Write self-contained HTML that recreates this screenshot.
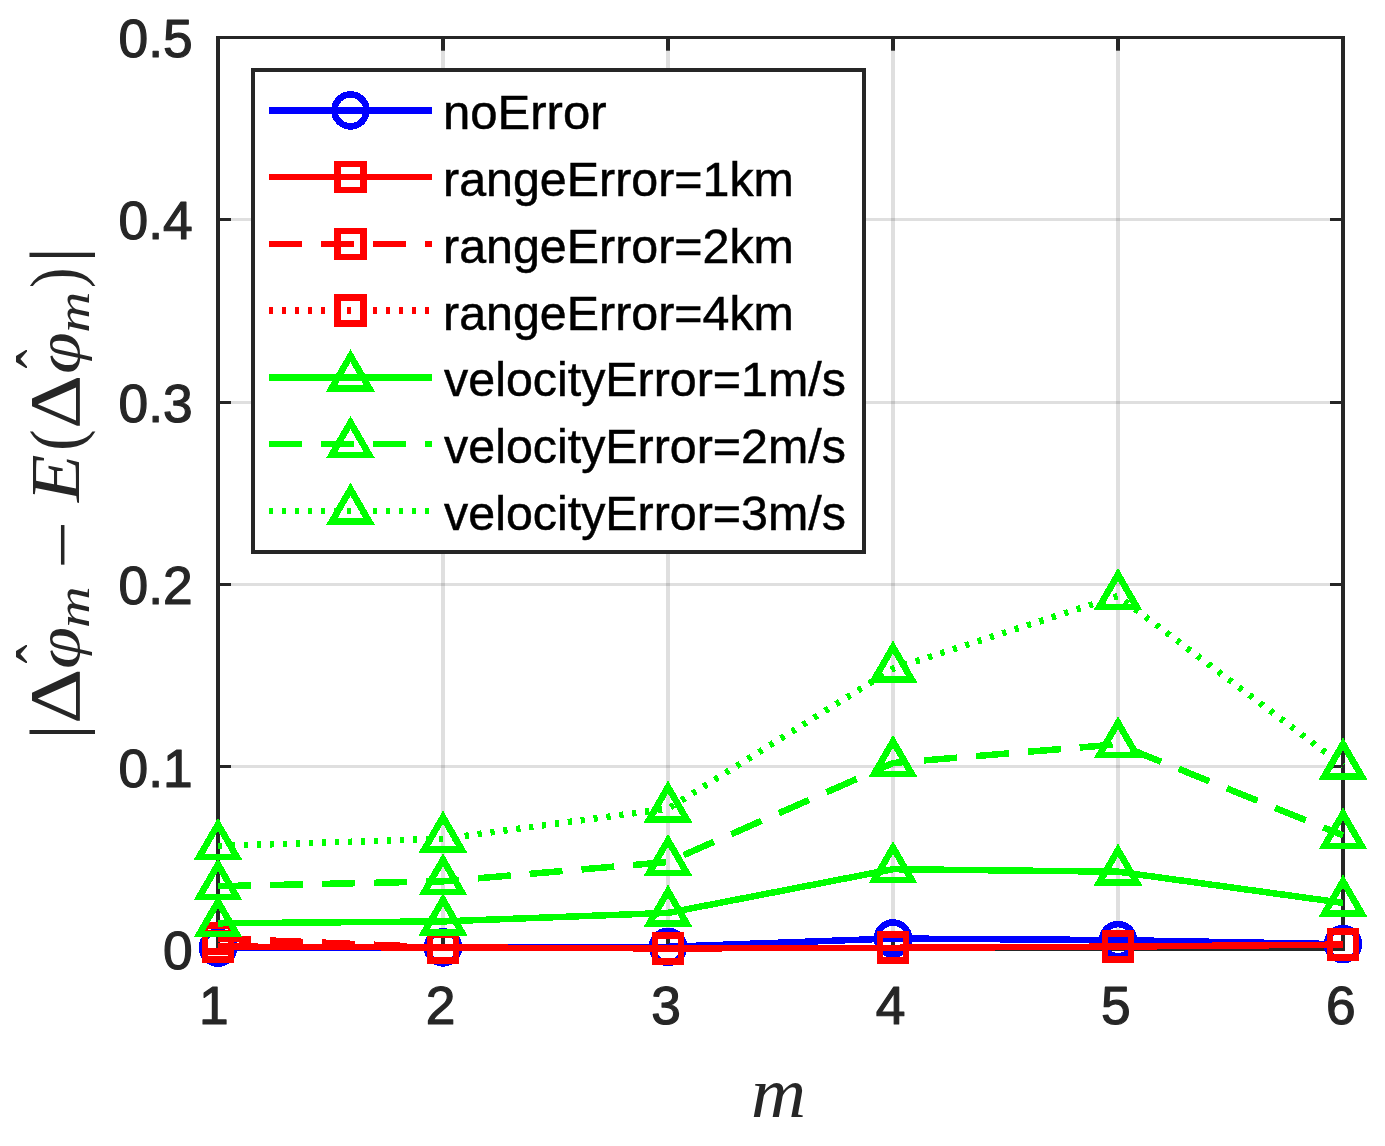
<!DOCTYPE html>
<html><head><meta charset="utf-8"><title>plot</title>
<style>html,body{margin:0;padding:0;background:#fff;width:1385px;height:1146px;overflow:hidden}text{font-kerning:none}</style>
</head><body>
<svg width="1385" height="1146" viewBox="0 0 1385 1146" style="display:block">
<rect x="0" y="0" width="1385" height="1146" fill="#fff"/>
<g fill="#262626" fill-opacity="0.15"><rect x="441" y="37.4" width="4" height="911.8"/><rect x="666" y="37.4" width="4" height="911.8"/><rect x="891" y="37.4" width="4" height="911.8"/><rect x="1116" y="37.4" width="4" height="911.8"/><rect x="218" y="765" width="1125" height="3"/><rect x="218" y="583" width="1125" height="3"/><rect x="218" y="401" width="1125" height="3"/><rect x="218" y="218" width="1125" height="3"/></g>
<g fill="#262626"><rect x="216" y="36" width="4" height="914.8"/><rect x="1341" y="36" width="4" height="914.8"/><rect x="216" y="36" width="1129" height="3"/><rect x="216" y="948" width="1129" height="3"/><rect x="441" y="38" width="4" height="12.7"/><rect x="441" y="935.5" width="4" height="12.5"/><rect x="666" y="38" width="4" height="12.7"/><rect x="666" y="935.5" width="4" height="12.5"/><rect x="891" y="38" width="4" height="12.7"/><rect x="891" y="935.5" width="4" height="12.5"/><rect x="1116" y="38" width="4" height="12.7"/><rect x="1116" y="935.5" width="4" height="12.5"/><rect x="220" y="765" width="11" height="3"/><rect x="1330" y="765" width="11" height="3"/><rect x="220" y="583" width="11" height="3"/><rect x="1330" y="583" width="11" height="3"/><rect x="220" y="401" width="11" height="3"/><rect x="1330" y="401" width="11" height="3"/><rect x="220" y="218" width="11" height="3"/><rect x="1330" y="218" width="11" height="3"/></g>
<g shape-rendering="crispEdges"><polyline points="218,947.6 443,947.35 668,946.8 893,938.5 1118,940.1 1343,944.2" fill="none" stroke="#0000ff" stroke-width="6.5"  stroke-linejoin="round"/><circle cx="218.00" cy="947.60" r="16" fill="none" stroke="#0000ff" stroke-width="6.6"/><circle cx="443.00" cy="947.35" r="16" fill="none" stroke="#0000ff" stroke-width="6.6"/><circle cx="668.00" cy="946.80" r="16" fill="none" stroke="#0000ff" stroke-width="6.6"/><circle cx="893.00" cy="938.50" r="16" fill="none" stroke="#0000ff" stroke-width="6.6"/><circle cx="1118.00" cy="940.10" r="16" fill="none" stroke="#0000ff" stroke-width="6.6"/><circle cx="1343.00" cy="944.20" r="16" fill="none" stroke="#0000ff" stroke-width="6.6"/><polyline points="218,946.6 443,947.5 668,948.4 893,947.8 1118,946.6 1343,944.6" fill="none" stroke="#ff0000" stroke-width="6.5"  stroke-linejoin="round"/><rect x="205.00" y="933.60" width="26" height="26" fill="none" stroke="#ff0000" stroke-width="6.6"/><rect x="430.00" y="934.50" width="26" height="26" fill="none" stroke="#ff0000" stroke-width="6.6"/><rect x="655.00" y="935.40" width="26" height="26" fill="none" stroke="#ff0000" stroke-width="6.6"/><rect x="880.00" y="934.80" width="26" height="26" fill="none" stroke="#ff0000" stroke-width="6.6"/><rect x="1105.00" y="933.60" width="26" height="26" fill="none" stroke="#ff0000" stroke-width="6.6"/><rect x="1330.00" y="931.60" width="26" height="26" fill="none" stroke="#ff0000" stroke-width="6.6"/><polyline points="218,938.4 443,947.5 668,948.4 893,947.8 1118,946.6 1343,944.6" fill="none" stroke="#ff0000" stroke-width="6.5" stroke-dasharray="33 19" stroke-linejoin="round"/><rect x="205.00" y="925.40" width="26" height="26" fill="none" stroke="#ff0000" stroke-width="6.6"/><rect x="430.00" y="934.50" width="26" height="26" fill="none" stroke="#ff0000" stroke-width="6.6"/><rect x="655.00" y="935.40" width="26" height="26" fill="none" stroke="#ff0000" stroke-width="6.6"/><rect x="880.00" y="934.80" width="26" height="26" fill="none" stroke="#ff0000" stroke-width="6.6"/><rect x="1105.00" y="933.60" width="26" height="26" fill="none" stroke="#ff0000" stroke-width="6.6"/><rect x="1330.00" y="931.60" width="26" height="26" fill="none" stroke="#ff0000" stroke-width="6.6"/><polyline points="218,946.6 443,947.5 668,948.4 893,947.8 1118,946.6 1343,944.6" fill="none" stroke="#ff0000" stroke-width="6.5" stroke-dasharray="4.2 8.8" stroke-linejoin="round"/><rect x="205.00" y="933.60" width="26" height="26" fill="none" stroke="#ff0000" stroke-width="6.6"/><rect x="430.00" y="934.50" width="26" height="26" fill="none" stroke="#ff0000" stroke-width="6.6"/><rect x="655.00" y="935.40" width="26" height="26" fill="none" stroke="#ff0000" stroke-width="6.6"/><rect x="880.00" y="934.80" width="26" height="26" fill="none" stroke="#ff0000" stroke-width="6.6"/><rect x="1105.00" y="933.60" width="26" height="26" fill="none" stroke="#ff0000" stroke-width="6.6"/><rect x="1330.00" y="931.60" width="26" height="26" fill="none" stroke="#ff0000" stroke-width="6.6"/><polyline points="218,923.3 443,921.4 668,912.9 893,869.2 1118,871.7 1343,902.9" fill="none" stroke="#00ff00" stroke-width="6.5"  stroke-linejoin="round"/><polygon points="218.00,901.63 199.24,934.13 236.76,934.13" fill="none" stroke="#00ff00" stroke-width="6.6" stroke-linejoin="miter" stroke-miterlimit="10"/><polygon points="443.00,899.73 424.24,932.23 461.76,932.23" fill="none" stroke="#00ff00" stroke-width="6.6" stroke-linejoin="miter" stroke-miterlimit="10"/><polygon points="668.00,891.23 649.24,923.73 686.76,923.73" fill="none" stroke="#00ff00" stroke-width="6.6" stroke-linejoin="miter" stroke-miterlimit="10"/><polygon points="893.00,847.53 874.24,880.03 911.76,880.03" fill="none" stroke="#00ff00" stroke-width="6.6" stroke-linejoin="miter" stroke-miterlimit="10"/><polygon points="1118.00,850.03 1099.24,882.53 1136.76,882.53" fill="none" stroke="#00ff00" stroke-width="6.6" stroke-linejoin="miter" stroke-miterlimit="10"/><polygon points="1343.00,881.23 1324.24,913.73 1361.76,913.73" fill="none" stroke="#00ff00" stroke-width="6.6" stroke-linejoin="miter" stroke-miterlimit="10"/><polyline points="218,886.2 443,881.3 668,862 893,763 1118,744.3 1343,835.3" fill="none" stroke="#00ff00" stroke-width="6.5" stroke-dasharray="33 19" stroke-linejoin="round"/><polygon points="218.00,864.53 199.24,897.03 236.76,897.03" fill="none" stroke="#00ff00" stroke-width="6.6" stroke-linejoin="miter" stroke-miterlimit="10"/><polygon points="443.00,859.63 424.24,892.13 461.76,892.13" fill="none" stroke="#00ff00" stroke-width="6.6" stroke-linejoin="miter" stroke-miterlimit="10"/><polygon points="668.00,840.33 649.24,872.83 686.76,872.83" fill="none" stroke="#00ff00" stroke-width="6.6" stroke-linejoin="miter" stroke-miterlimit="10"/><polygon points="893.00,741.33 874.24,773.83 911.76,773.83" fill="none" stroke="#00ff00" stroke-width="6.6" stroke-linejoin="miter" stroke-miterlimit="10"/><polygon points="1118.00,722.63 1099.24,755.13 1136.76,755.13" fill="none" stroke="#00ff00" stroke-width="6.6" stroke-linejoin="miter" stroke-miterlimit="10"/><polygon points="1343.00,813.63 1324.24,846.13 1361.76,846.13" fill="none" stroke="#00ff00" stroke-width="6.6" stroke-linejoin="miter" stroke-miterlimit="10"/><polyline points="218,846 443,838.8 668,808.7 893,668.7 1118,596.1 1343,765.6" fill="none" stroke="#00ff00" stroke-width="6.5" stroke-dasharray="4.2 8.8" stroke-linejoin="round"/><polygon points="218.00,824.33 199.24,856.83 236.76,856.83" fill="none" stroke="#00ff00" stroke-width="6.6" stroke-linejoin="miter" stroke-miterlimit="10"/><polygon points="443.00,817.13 424.24,849.63 461.76,849.63" fill="none" stroke="#00ff00" stroke-width="6.6" stroke-linejoin="miter" stroke-miterlimit="10"/><polygon points="668.00,787.03 649.24,819.53 686.76,819.53" fill="none" stroke="#00ff00" stroke-width="6.6" stroke-linejoin="miter" stroke-miterlimit="10"/><polygon points="893.00,647.03 874.24,679.53 911.76,679.53" fill="none" stroke="#00ff00" stroke-width="6.6" stroke-linejoin="miter" stroke-miterlimit="10"/><polygon points="1118.00,574.43 1099.24,606.93 1136.76,606.93" fill="none" stroke="#00ff00" stroke-width="6.6" stroke-linejoin="miter" stroke-miterlimit="10"/><polygon points="1343.00,743.93 1324.24,776.43 1361.76,776.43" fill="none" stroke="#00ff00" stroke-width="6.6" stroke-linejoin="miter" stroke-miterlimit="10"/></g>
<g><text x="163.07" y="968.90" font-family="Liberation Sans, Arial, Helvetica, sans-serif" font-size="53.3" fill="#262626" stroke="#262626" stroke-width="1.2" stroke-linejoin="round">0</text><text x="118.61" y="786.54" font-family="Liberation Sans, Arial, Helvetica, sans-serif" font-size="53.3" fill="#262626" stroke="#262626" stroke-width="1.2" stroke-linejoin="round">0.1</text><text x="118.61" y="604.18" font-family="Liberation Sans, Arial, Helvetica, sans-serif" font-size="53.3" fill="#262626" stroke="#262626" stroke-width="1.2" stroke-linejoin="round">0.2</text><text x="118.61" y="421.82" font-family="Liberation Sans, Arial, Helvetica, sans-serif" font-size="53.3" fill="#262626" stroke="#262626" stroke-width="1.2" stroke-linejoin="round">0.3</text><text x="118.61" y="239.46" font-family="Liberation Sans, Arial, Helvetica, sans-serif" font-size="53.3" fill="#262626" stroke="#262626" stroke-width="1.2" stroke-linejoin="round">0.4</text><text x="118.61" y="57.10" font-family="Liberation Sans, Arial, Helvetica, sans-serif" font-size="53.3" fill="#262626" stroke="#262626" stroke-width="1.2" stroke-linejoin="round">0.5</text><text x="198.95" y="1024.20" font-family="Liberation Sans, Arial, Helvetica, sans-serif" font-size="53.3" fill="#262626" stroke="#262626" stroke-width="1.2" stroke-linejoin="round">1</text><text x="425.68" y="1024.20" font-family="Liberation Sans, Arial, Helvetica, sans-serif" font-size="53.3" fill="#262626" stroke="#262626" stroke-width="1.2" stroke-linejoin="round">2</text><text x="651.33" y="1024.20" font-family="Liberation Sans, Arial, Helvetica, sans-serif" font-size="53.3" fill="#262626" stroke="#262626" stroke-width="1.2" stroke-linejoin="round">3</text><text x="875.85" y="1024.20" font-family="Liberation Sans, Arial, Helvetica, sans-serif" font-size="53.3" fill="#262626" stroke="#262626" stroke-width="1.2" stroke-linejoin="round">4</text><text x="1101.03" y="1024.20" font-family="Liberation Sans, Arial, Helvetica, sans-serif" font-size="53.3" fill="#262626" stroke="#262626" stroke-width="1.2" stroke-linejoin="round">5</text><text x="1326.00" y="1024.20" font-family="Liberation Sans, Arial, Helvetica, sans-serif" font-size="53.3" fill="#262626" stroke="#262626" stroke-width="1.2" stroke-linejoin="round">6</text></g>
<g style="font-kerning:none" shape-rendering="crispEdges"><rect x="252.95" y="69.9" width="611" height="481.9" fill="#fff" stroke="#262626" stroke-width="3.7"/><line x1="268.9" y1="110.45" x2="432.1" y2="110.45" stroke="#0000ff" stroke-width="6.5" /><circle cx="350.50" cy="110.45" r="16" fill="none" stroke="#0000ff" stroke-width="6.6"/><text transform="matrix(1.00522 0 0 1 442.99 128.55)" font-family="Liberation Sans, Arial, Helvetica, sans-serif" font-size="48.8" fill="#000" stroke="#000" stroke-width="0.5">noError</text><line x1="268.9" y1="177.19" x2="432.1" y2="177.19" stroke="#ff0000" stroke-width="6.5" /><rect x="337.50" y="164.19" width="26" height="26" fill="none" stroke="#ff0000" stroke-width="6.6"/><text transform="matrix(0.99170 0 0 1 443.04 195.95)" font-family="Liberation Sans, Arial, Helvetica, sans-serif" font-size="48.8" fill="#000" stroke="#000" stroke-width="0.5">rangeError=1km</text><line x1="268.9" y1="243.93" x2="432.1" y2="243.93" stroke="#ff0000" stroke-width="6.5" stroke-dasharray="33 19"/><rect x="337.50" y="230.93" width="26" height="26" fill="none" stroke="#ff0000" stroke-width="6.6"/><text transform="matrix(0.99170 0 0 1 443.04 263.15)" font-family="Liberation Sans, Arial, Helvetica, sans-serif" font-size="48.8" fill="#000" stroke="#000" stroke-width="0.5">rangeError=2km</text><line x1="268.9" y1="310.67" x2="432.1" y2="310.67" stroke="#ff0000" stroke-width="6.5" stroke-dasharray="4.2 8.8"/><rect x="337.50" y="297.67" width="26" height="26" fill="none" stroke="#ff0000" stroke-width="6.6"/><text transform="matrix(0.99170 0 0 1 443.04 329.55)" font-family="Liberation Sans, Arial, Helvetica, sans-serif" font-size="48.8" fill="#000" stroke="#000" stroke-width="0.5">rangeError=4km</text><line x1="268.9" y1="377.41" x2="432.1" y2="377.41" stroke="#00ff00" stroke-width="6.5" /><polygon points="350.50,355.74 331.74,388.24 369.26,388.24" fill="none" stroke="#00ff00" stroke-width="6.6" stroke-linejoin="miter" stroke-miterlimit="10"/><text transform="matrix(0.99137 0 0 1 444.08 395.95)" font-family="Liberation Sans, Arial, Helvetica, sans-serif" font-size="48.8" fill="#000" stroke="#000" stroke-width="0.5">velocityError=1m/s</text><line x1="268.9" y1="444.15" x2="432.1" y2="444.15" stroke="#00ff00" stroke-width="6.5" stroke-dasharray="33 19"/><polygon points="350.50,422.48 331.74,454.98 369.26,454.98" fill="none" stroke="#00ff00" stroke-width="6.6" stroke-linejoin="miter" stroke-miterlimit="10"/><text transform="matrix(0.99137 0 0 1 444.08 463.15)" font-family="Liberation Sans, Arial, Helvetica, sans-serif" font-size="48.8" fill="#000" stroke="#000" stroke-width="0.5">velocityError=2m/s</text><line x1="268.9" y1="510.89" x2="432.1" y2="510.89" stroke="#00ff00" stroke-width="6.5" stroke-dasharray="4.2 8.8"/><polygon points="350.50,489.22 331.74,521.72 369.26,521.72" fill="none" stroke="#00ff00" stroke-width="6.6" stroke-linejoin="miter" stroke-miterlimit="10"/><text transform="matrix(0.99137 0 0 1 444.08 529.65)" font-family="Liberation Sans, Arial, Helvetica, sans-serif" font-size="48.8" fill="#000" stroke="#000" stroke-width="0.5">velocityError=3m/s</text></g>
<text transform="matrix(0.76237 0 0 0.72158 751.05 1117.00)" font-family="Liberation Serif, Times New Roman, serif" font-style="italic" font-size="100" fill="#262626">m</text>
<g transform="rotate(-90)"><text transform="matrix(0.80314 0 0 0.71455 -740.04 79.58)" font-family="Liberation Serif, Times New Roman, serif" font-style="normal" font-size="100" fill="#262626">|</text><text transform="matrix(0.86185 0 0 0.71347 -723.88 78.90)" font-family="Liberation Serif, Times New Roman, serif" font-style="normal" font-size="100" fill="#262626">Δ</text><text transform="matrix(0.56889 0 0 0.73621 -663.50 68.23)" font-family="Liberation Serif, Times New Roman, serif" font-style="normal" font-size="100" fill="#262626">ˆ</text><text transform="matrix(0.76195 0 0 0.62229 -669.07 79.15)" font-family="Liberation Serif, Times New Roman, serif" font-style="italic" font-size="100" fill="#262626">φ</text><text transform="matrix(0.57760 0 0 0.46266 -628.09 89.40)" font-family="Liberation Serif, Times New Roman, serif" font-style="italic" font-size="100" fill="#262626">m</text><text transform="matrix(0.85101 0 0 0.70275 -568.74 85.68)" font-family="Liberation Serif, Times New Roman, serif" font-style="normal" font-size="100" fill="#262626">−</text><text transform="matrix(0.77666 0 0 0.69183 -502.09 78.90)" font-family="Liberation Serif, Times New Roman, serif" font-style="italic" font-size="100" fill="#262626">E</text><text transform="matrix(0.64243 0 0 0.71686 -450.82 79.74)" font-family="Liberation Serif, Times New Roman, serif" font-style="normal" font-size="100" fill="#262626">(</text><text transform="matrix(0.84070 0 0 0.71195 -428.90 79.00)" font-family="Liberation Serif, Times New Roman, serif" font-style="normal" font-size="100" fill="#262626">Δ</text><text transform="matrix(0.56889 0 0 0.73621 -368.50 68.23)" font-family="Liberation Serif, Times New Roman, serif" font-style="normal" font-size="100" fill="#262626">ˆ</text><text transform="matrix(0.75591 0 0 0.62229 -374.05 79.15)" font-family="Liberation Serif, Times New Roman, serif" font-style="italic" font-size="100" fill="#262626">φ</text><text transform="matrix(0.56829 0 0 0.46266 -332.85 89.40)" font-family="Liberation Serif, Times New Roman, serif" font-style="italic" font-size="100" fill="#262626">m</text><text transform="matrix(0.61129 0 0 0.71686 -287.97 79.74)" font-family="Liberation Serif, Times New Roman, serif" font-style="normal" font-size="100" fill="#262626">)</text><text transform="matrix(0.84329 0 0 0.71455 -263.34 79.58)" font-family="Liberation Serif, Times New Roman, serif" font-style="normal" font-size="100" fill="#262626">|</text></g>
</svg>
</body></html>
